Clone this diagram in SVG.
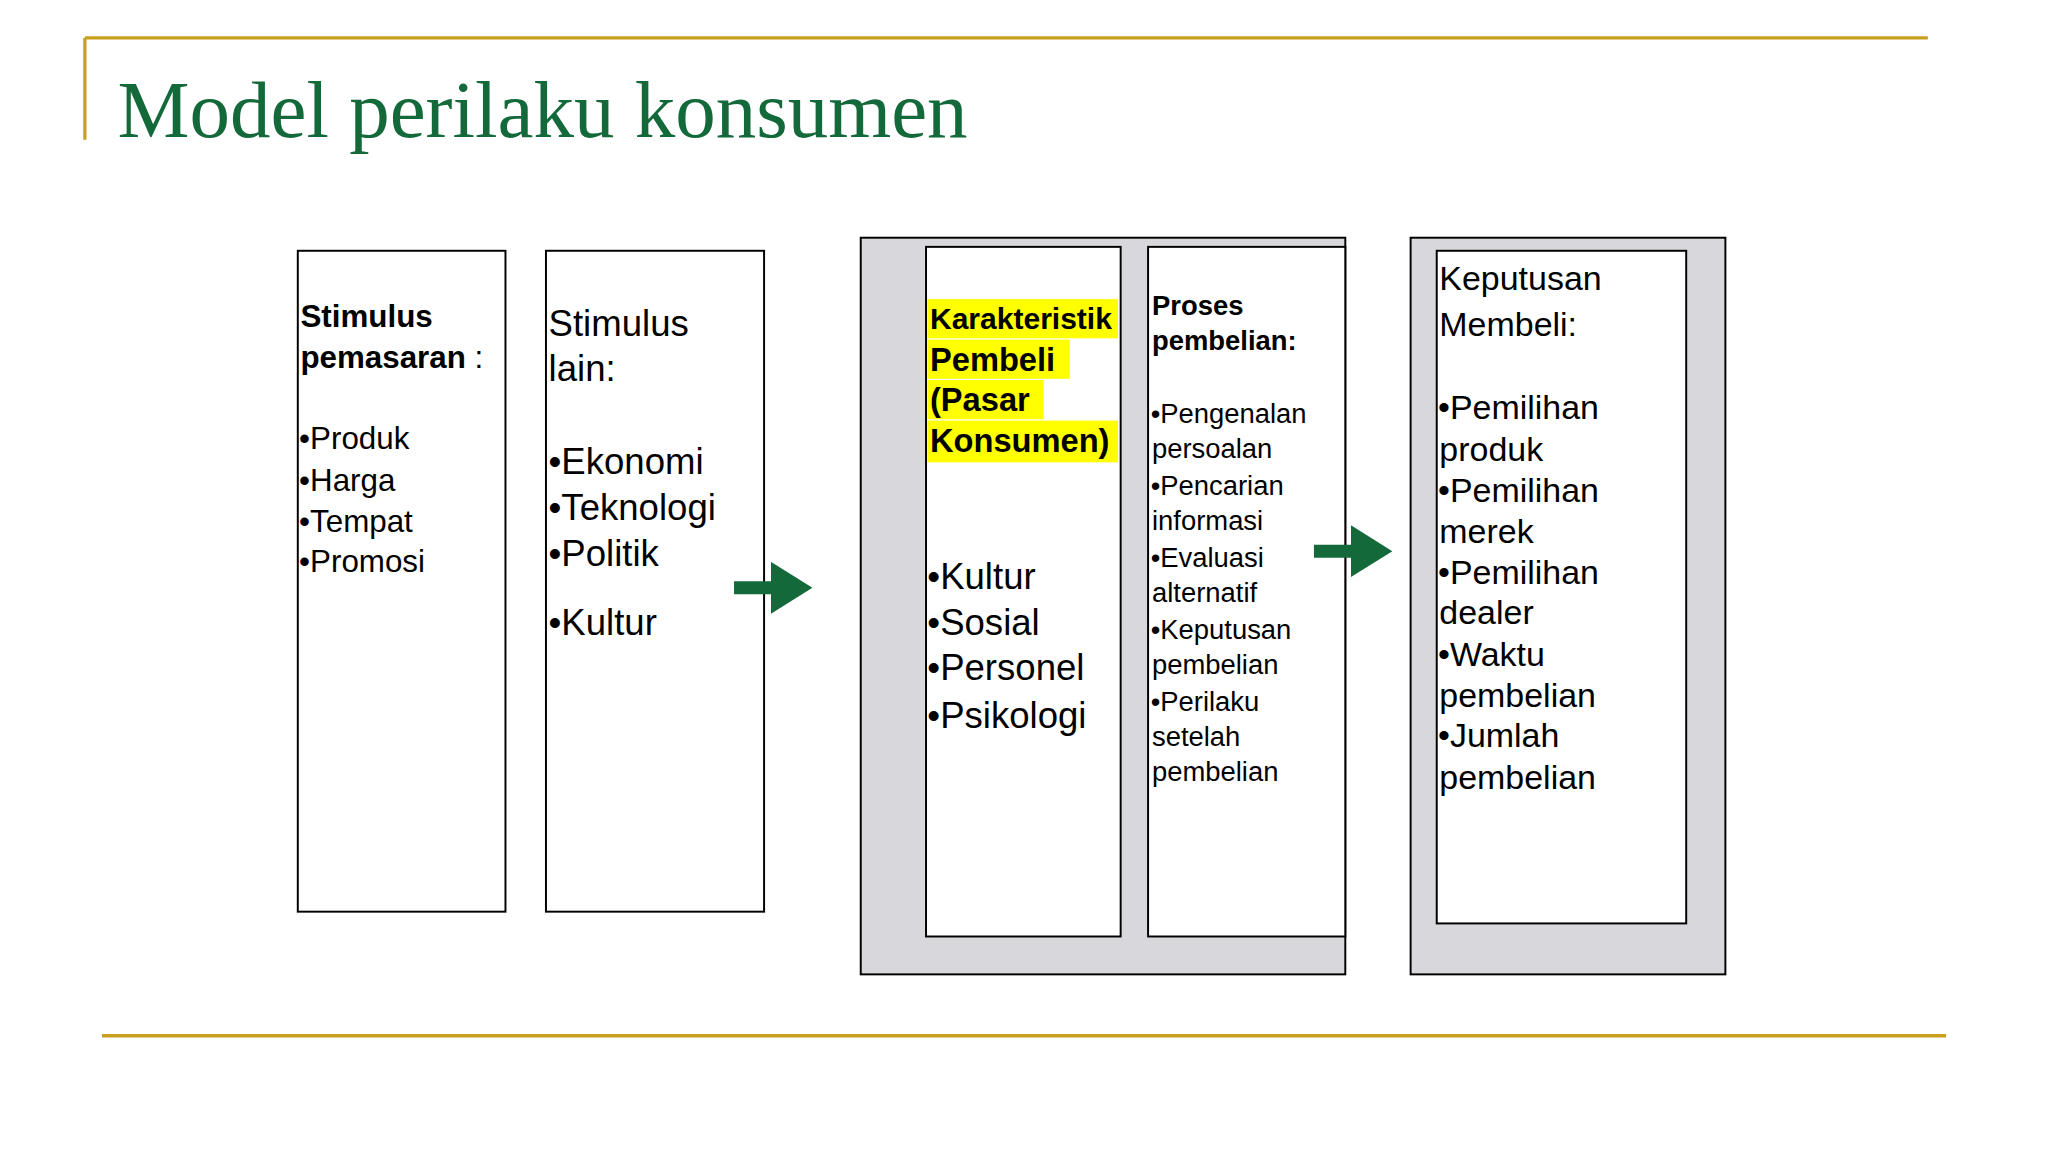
<svg xmlns="http://www.w3.org/2000/svg" width="2048" height="1152" viewBox="0 0 2048 1152">
<style>
.t{font-family:"Liberation Sans",Arial,sans-serif;fill:#000}
.b{font-weight:bold}
.box{fill:#fff;stroke:#000;stroke-width:1.5}
.grey{fill:#d8d8dc;stroke:#000;stroke-width:1.5}
.gold{stroke:#c8a020;stroke-width:2.5}
.hl{fill:#ffff00}
</style>
<defs>
<marker id="ah" markerWidth="4" markerHeight="4" refX="1" refY="2" orient="auto" markerUnits="strokeWidth"><path d="M0,0 L3.2,2 L0,4 Z" fill="#13693a"/></marker>
</defs>
<rect width="2048" height="1152" fill="#fff"/>
<g transform="scale(1.30612)">
<g id="frame">
<line class="gold" x1="65" y1="29" x2="1476" y2="29"/>
<line class="gold" x1="65" y1="29" x2="65" y2="107"/>
<line class="gold" x1="78" y1="793" x2="1490" y2="793"/>
<text x="90" y="105" font-family="'Liberation Serif','Times New Roman',serif" font-size="62" fill="#13693a">Model perilaku konsumen</text>
</g>
<g id="n1">
<rect class="box" x="228" y="192" width="159" height="506"/>
<text class="t b" font-size="24"><tspan x="230" y="250">Stimulus</tspan><tspan x="230" y="282">pemasaran <tspan font-weight="normal">:</tspan></tspan></text>
<text class="t" font-size="24"><tspan x="229" y="344">•Produk</tspan><tspan x="229" y="376">•Harga</tspan><tspan x="229" y="407">•Tempat</tspan><tspan x="229" y="438">•Promosi</tspan></text>
</g>
<g id="n2">
<rect class="box" x="418" y="192" width="167" height="506"/>
<text class="t" font-size="28"><tspan x="420" y="257">Stimulus</tspan><tspan x="420" y="292">lain:</tspan><tspan x="420" y="363">•Ekonomi</tspan><tspan x="420" y="398">•Teknologi</tspan><tspan x="420" y="433">•Politik</tspan><tspan x="420" y="486">•Kultur</tspan></text>
</g>
<g id="n3">
<rect class="grey" x="659" y="182" width="371" height="564"/>
<rect class="box" x="709" y="189" width="149" height="528"/>
<rect class="hl" x="710" y="229" width="146" height="30"/>
<rect class="hl" x="710" y="260" width="109" height="30"/>
<rect class="hl" x="710" y="291" width="89" height="30"/>
<rect class="hl" x="710" y="322" width="146" height="32"/>
<text class="t b" font-size="23"><tspan x="712" y="252">Karakteristik</tspan><tspan x="712" y="284" font-size="25">Pembeli</tspan><tspan x="712" y="315" font-size="25">(Pasar</tspan><tspan x="712" y="346" font-size="25">Konsumen)</tspan></text>
<text class="t" font-size="28"><tspan x="710" y="451">•Kultur</tspan><tspan x="710" y="486">•Sosial</tspan><tspan x="710" y="521">•Personel</tspan><tspan x="710" y="557">•Psikologi</tspan></text>
</g>
<g id="n4">
<rect class="box" x="879" y="189" width="151" height="528"/>
<text class="t b" font-size="21"><tspan x="882" y="241">Proses</tspan><tspan x="882" y="268">pembelian:</tspan></text>
<text class="t" font-size="21"><tspan x="881" y="324">•Pengenalan</tspan><tspan x="882" y="351">persoalan</tspan><tspan x="881" y="379">•Pencarian</tspan><tspan x="882" y="406">informasi</tspan><tspan x="881" y="434">•Evaluasi</tspan><tspan x="882" y="461">alternatif</tspan><tspan x="881" y="489">•Keputusan</tspan><tspan x="882" y="516">pembelian</tspan><tspan x="881" y="544">•Perilaku</tspan><tspan x="882" y="571">setelah</tspan><tspan x="882" y="598">pembelian</tspan></text>
</g>
<g id="n5">
<rect class="grey" x="1080" y="182" width="241" height="564"/>
<rect class="box" x="1100" y="192" width="191" height="515"/>
<text class="t" font-size="26"><tspan x="1102" y="222">Keputusan</tspan><tspan x="1102" y="257">Membeli:</tspan><tspan x="1101" y="321">•Pemilihan</tspan><tspan x="1102" y="353">produk</tspan><tspan x="1101" y="384">•Pemilihan</tspan><tspan x="1102" y="416">merek</tspan><tspan x="1101" y="447">•Pemilihan</tspan><tspan x="1102" y="478">dealer</tspan><tspan x="1101" y="510">•Waktu</tspan><tspan x="1102" y="541">pembelian</tspan><tspan x="1101" y="572">•Jumlah</tspan><tspan x="1102" y="604">pembelian</tspan></text>
</g>
<g id="connectors">
<line x1="562" y1="450" x2="600" y2="450" stroke="#13693a" stroke-width="10" marker-end="url(#ah)"/>
<line x1="1006" y1="422" x2="1044" y2="422" stroke="#13693a" stroke-width="10" marker-end="url(#ah)"/>
</g>
</g>
</svg>
